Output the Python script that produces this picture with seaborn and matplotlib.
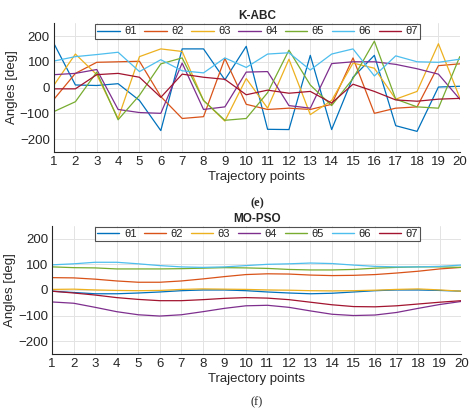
import numpy as np
import pandas as pd
import matplotlib
matplotlib.use("Agg")
import matplotlib.pyplot as plt
import seaborn as sns

points = list(range(1, 21))
series_names = ["θ1", "θ2", "θ3", "θ4", "θ5", "θ6", "θ7"]

# K-ABC
kabc_t1 = [170, 10, 8, 15, -50, -167, 150, 150, 30, 160, -162, -163, 125, -163, 40, 125, -148, -170, 2, 5]
kabc_t2 = [-45, 55, 98, 100, 102, -35, -120, -113, 113, -65, -85, -80, -85, -65, 115, -100, -80, -75, 85, 92]
kabc_t3 = [10, 130, 50, -120, 120, 150, 140, -50, -130, 35, -80, 110, -105, -50, 95, 75, -45, -15, 170, -40]
kabc_t4 = [50, 55, 70, -85, -97, -100, 95, -85, -75, 60, 62, -70, -80, 93, 100, 100, 90, 73, 52, -45]
kabc_t5 = [-93, -55, 60, -125, -30, 92, 115, -50, -127, -120, -20, 145, 10, -70, 35, 180, -45, -75, -80, 120]
kabc_t6 = [103, 120, 128, 137, 62, 108, 65, 57, 115, 78, 130, 135, 68, 130, 150, 45, 123, 100, 98, 110]
kabc_t7 = [-5, -5, 50, 55, 40, -38, 52, 40, 32, -28, -10, -22, -15, -60, 13, -15, -48, -53, -45, -42]

# MO-PSO
pso_t1 = [-5, -10, -15, -15, -12, -8, -3, 0, 0, -3, -8, -12, -15, -13, -8, -3, 0, 0, -2, -5]
pso_t2 = [48, 47, 42, 35, 30, 30, 35, 43, 52, 60, 63, 62, 58, 56, 57, 60, 66, 73, 82, 88]
pso_t3 = [2, 3, 0, -2, -3, -2, 2, 4, 3, 2, 0, -1, -3, -4, -3, -1, 2, 4, 0, -5]
pso_t4 = [-47, -52, -68, -85, -97, -102, -97, -85, -72, -62, -60, -68, -82, -95, -100, -98, -88, -72, -57, -45]
pso_t5 = [90, 87, 86, 82, 82, 82, 83, 85, 87, 86, 84, 80, 78, 78, 80, 85, 88, 90, 90, 88]
pso_t6 = [98, 102, 108, 108, 102, 95, 90, 88, 90, 95, 100, 102, 105, 103, 97, 92, 90, 90, 92, 97]
pso_t7 = [-5, -12, -20, -30, -37, -42, -42, -38, -33, -30, -32, -38, -48, -58, -65, -66, -62, -55, -48, -42]

yticks = [-200, -100, 0, 100, 200]

colors = ["#0072BD", "#D95319", "#EDB120", "#7E2F8E", "#77AC30", "#4DBEEE", "#A2142F"]

sns.set_style("white")
plt.rcParams["font.family"] = ["Liberation Sans", "DejaVu Sans"]


def to_long(series):
    rows = []
    for name, vals in zip(series_names, series):
        for p, v in zip(points, vals):
            rows.append({"point": p, "angle": v, "joint": name})
    return pd.DataFrame(rows)


fig = plt.figure(figsize=(4.74, 4.13), dpi=100)
ax1 = fig.add_axes([0.114, 0.632, 0.856, 0.312])
ax2 = fig.add_axes([0.110, 0.143, 0.863, 0.310])

datasets = [
    (ax1, [kabc_t1, kabc_t2, kabc_t3, kabc_t4, kabc_t5, kabc_t6, kabc_t7], "K-ABC", "(e)", "bold", -0.40),
    (ax2, [pso_t1, pso_t2, pso_t3, pso_t4, pso_t5, pso_t6, pso_t7], "MO-PSO", "(f)", "normal", -0.38),
]

for ax, series, title, tag, tagweight, tagy in datasets:
    df = to_long(series)
    sns.lineplot(data=df, x="point", y="angle", hue="joint", palette=colors,
                 ax=ax, linewidth=0.9, legend=True)
    ax.set_xlim(1, 20)
    ax.set_ylim(-250, 250)
    ax.set_xticks(points)
    ax.set_yticks(yticks)
    ax.tick_params(axis="both", labelsize=9.5, direction="in", length=3, color="#262626",
                   labelcolor="#262626", pad=3)
    ax.grid(True, color="#e3e3e3", linewidth=0.7)
    ax.set_axisbelow(True)
    for s in ["top", "right"]:
        ax.spines[s].set_visible(False)
    for s in ["left", "bottom"]:
        ax.spines[s].set_color("#262626")
        ax.spines[s].set_linewidth(0.8)
    ax.set_xlabel("Trajectory points", fontsize=9.5, color="#262626", labelpad=2)
    ax.set_ylabel("Angles [deg]", fontsize=9.5, color="#262626", labelpad=1.5)
    ax.set_title(title, fontsize=8.5, fontweight="bold", color="#262626", pad=3)
    ax.text(0.5, tagy, tag, transform=ax.transAxes, ha="center", va="center",
            fontsize=9, fontweight=tagweight, family="Liberation Serif")
    leg = ax.legend(loc="upper center", bbox_to_anchor=(0.502, 1.0), ncol=7,
                    fontsize=8, frameon=True, fancybox=False, handlelength=2.0,
                    columnspacing=0.7, handletextpad=0.4, borderpad=0.2,
                    borderaxespad=0.1)
    leg.get_frame().set_edgecolor("#262626")
    leg.get_frame().set_linewidth(0.8)
    for line in leg.get_lines():
        line.set_linewidth(1.0)

fig.savefig("out.png", dpi=100)
